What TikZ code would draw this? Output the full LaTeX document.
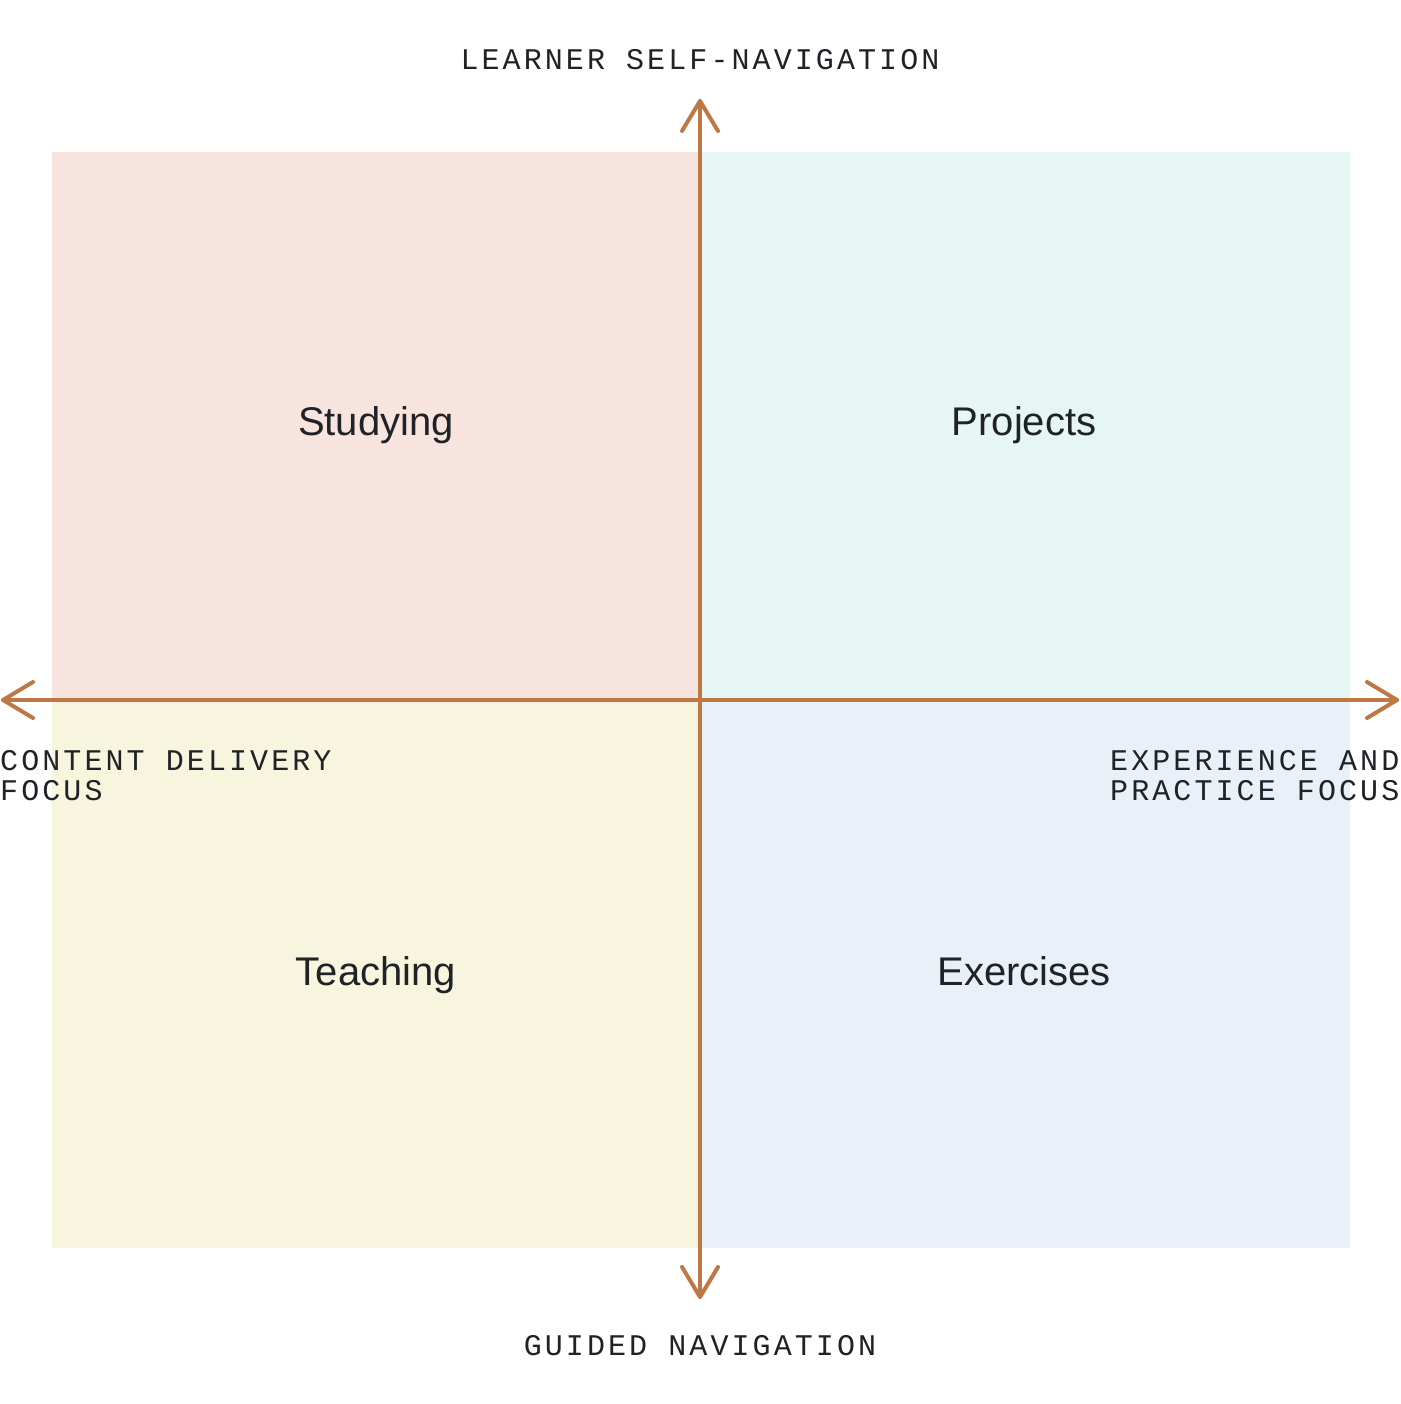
\documentclass[tikz,border=0pt]{standalone}
\usepackage{fontspec}
\setmainfont{Liberation Sans}
\newfontfamily\monof[LetterSpace=10.3]{Liberation Mono}
\usetikzlibrary{calc}
\definecolor{axiscol}{HTML}{BD7845}
\definecolor{pinkq}{HTML}{F7E4DF}
\definecolor{tealq}{HTML}{E6F6F4}
\definecolor{yellowq}{HTML}{F7F5DE}
\definecolor{blueq}{HTML}{E9F0F8}
\definecolor{inkc}{HTML}{1F2226}
\tikzset{
  axis/.style={draw=axiscol, line width=4pt, line cap=round, line join=round},
  qlabel/.style={anchor=base, text=inkc, font=\fontsize{40}{46}\selectfont, inner sep=0pt},
  alabel/.style={text=inkc, font=\monof\fontsize{30}{30}\selectfont, inner sep=0pt, align=left},
}
\begin{document}
\begin{tikzpicture}[x=1pt,y=-1pt]
\useasboundingbox (0,0) rectangle (1400,1404);
\fill[white] (0,0) rectangle (1400,1404);
% quadrants
\fill[pinkq] (52,152) rectangle (700,700);
\fill[tealq] (700,152) rectangle (1350,700);
\fill[yellowq] (52,700) rectangle (700,1248);
\fill[blueq] (700,700) rectangle (1350,1248);
% axis ends
\coordinate (top) at (700,101);
\coordinate (bottom) at (700,1297);
\coordinate (left) at (3,700);
\coordinate (right) at (1397,700);
\draw[axis] (left) -- (right);
\draw[axis] (top) -- (bottom);
\draw[axis] ($(top)+(-18,30)$) -- (top) -- ($(top)+(18,30)$);
\draw[axis] ($(bottom)+(-18,-30)$) -- (bottom) -- ($(bottom)+(18,-30)$);
\draw[axis] ($(left)+(30,-18)$) -- (left) -- ($(left)+(30,18)$);
\draw[axis] ($(right)+(-30,-18)$) -- (right) -- ($(right)+(-30,18)$);
% quadrant labels
\node[qlabel] (studying) at (376,435) {Studying};
\node[qlabel] (projects) at (1024,435) {Projects};
\node[qlabel] (teaching) at (376,985) {Teaching};
\node[qlabel] (exercises) at (1024,985) {Exercises};
% axis labels
\node[alabel, anchor=base] (lsn) at (700,70) {LEARNER SELF-NAVIGATION};
\node[alabel, anchor=base] (gn) at (700,1355) {GUIDED NAVIGATION};
\node[alabel, anchor=base west] (cdf) at (0,800) {CONTENT DELIVERY\\FOCUS};
\node[alabel, anchor=base west] (epf) at (1110,800) {EXPERIENCE AND\\PRACTICE FOCUS};
\end{tikzpicture}
\end{document}
